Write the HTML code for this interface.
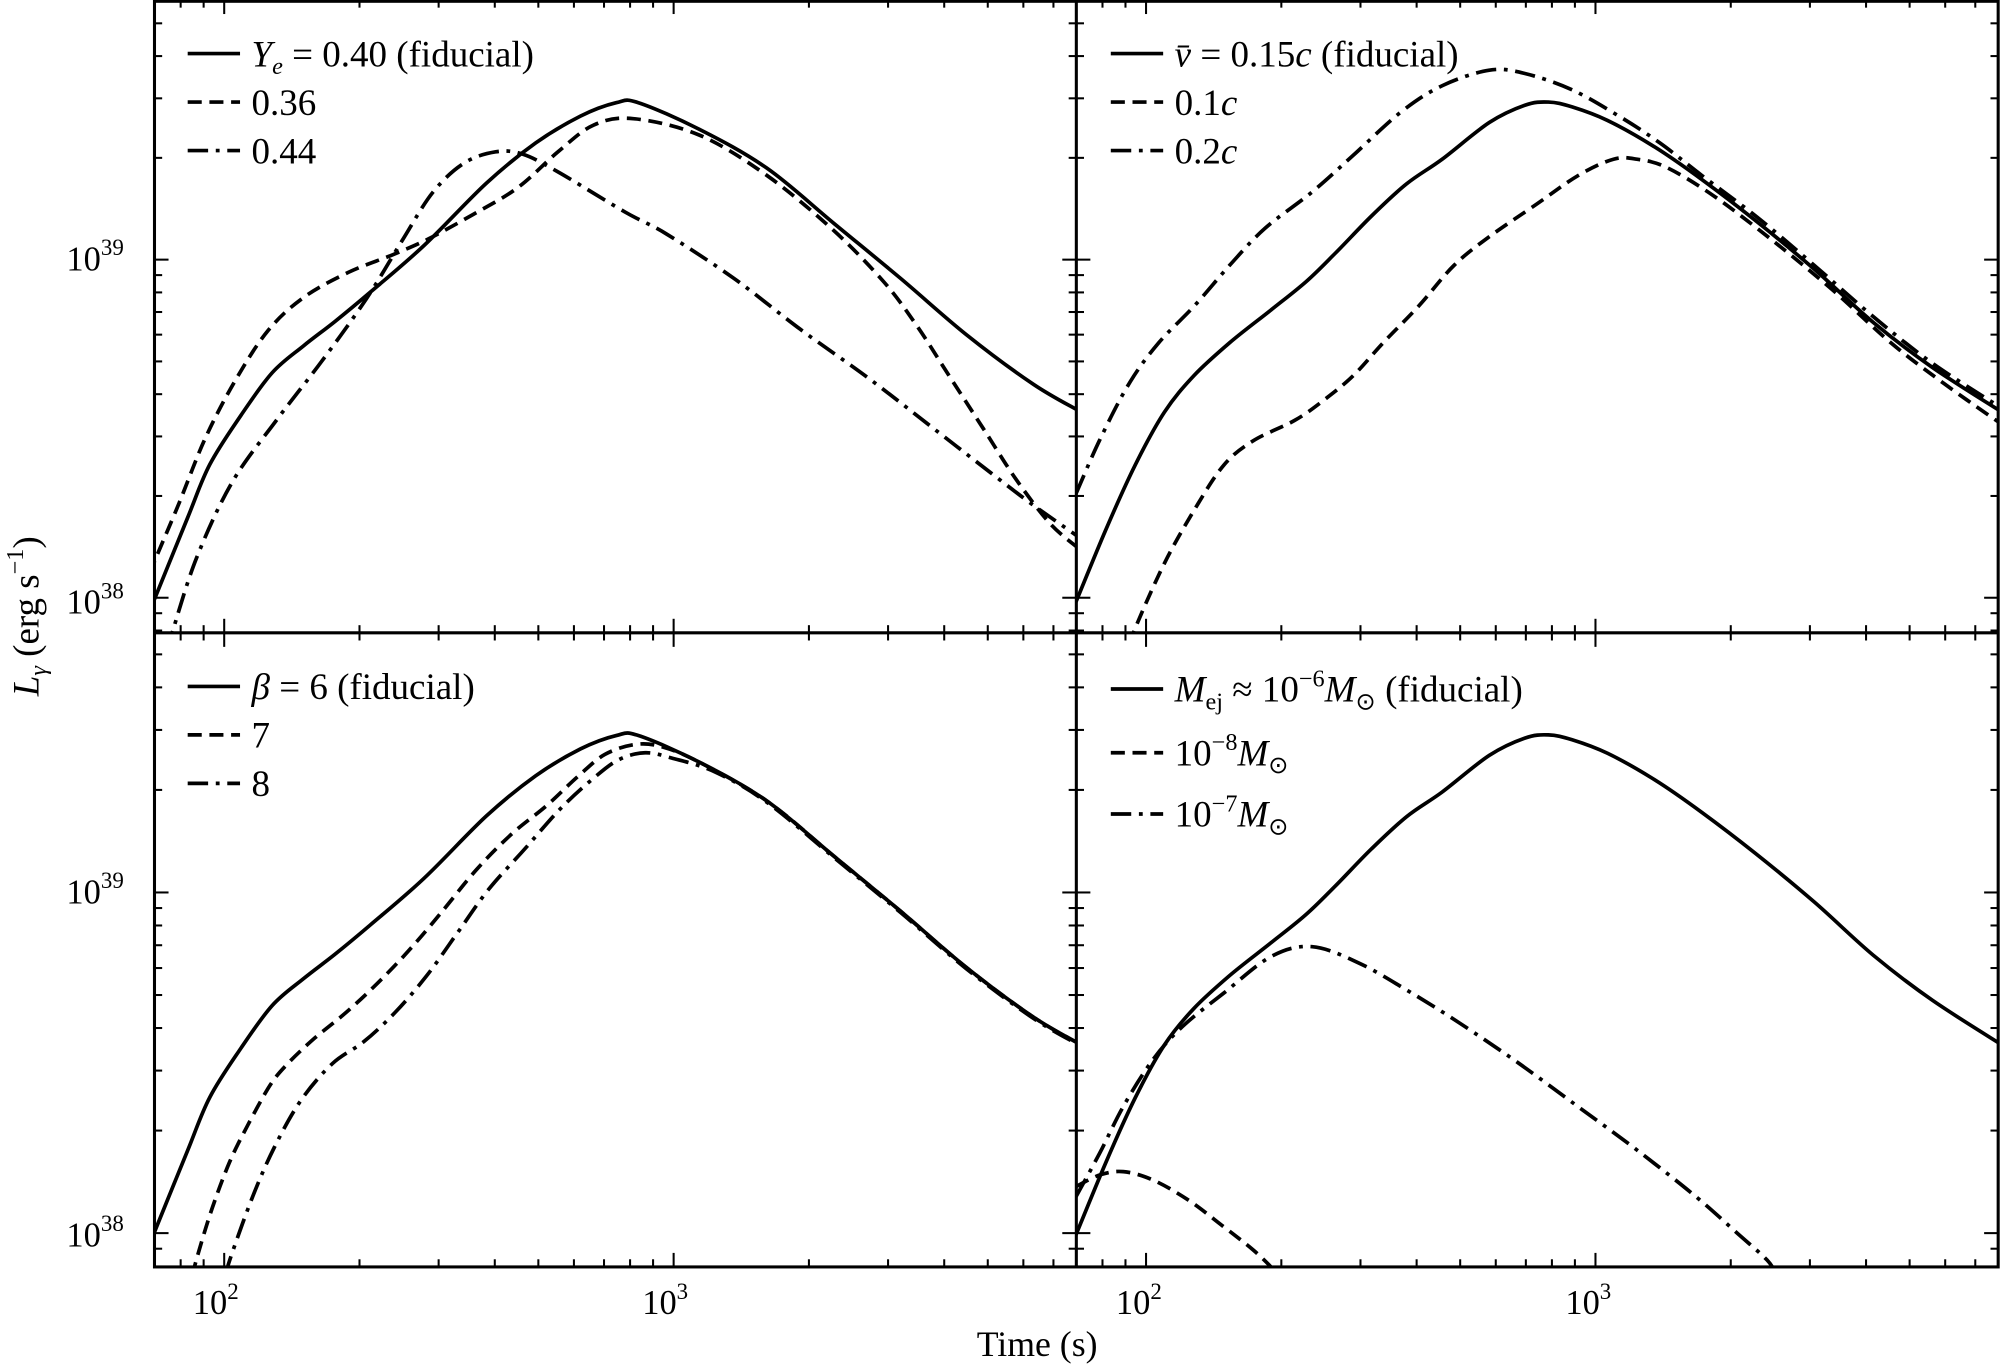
<!DOCTYPE html>
<html><head><meta charset="utf-8"><style>
html,body{margin:0;padding:0;background:#fff;}
svg{display:block;}
text{font-family:"Liberation Serif",serif;fill:#000;}
</style></head><body>
<svg id="s" width="2002" height="1369" viewBox="0 0 1568 1073" preserveAspectRatio="none" xmlns="http://www.w3.org/2000/svg">
<defs>
<clipPath id="c0"><rect x="121" y="0" width="722" height="496"/></clipPath>
<clipPath id="c1"><rect x="843" y="0" width="722" height="496"/></clipPath>
<clipPath id="c2"><rect x="121" y="496" width="722" height="497"/></clipPath>
<clipPath id="c3"><rect x="843" y="496" width="722" height="497"/></clipPath>
</defs>
<g id="curves" fill="none" stroke="#000" stroke-width="2.9" stroke-linejoin="round" stroke-linecap="butt"></g>
<g id="ticks" stroke="#000" stroke-width="1.6"></g>
<g fill="none" stroke="#000" stroke-width="2.4">
<rect x="121" y="1" width="1444" height="992"/>
<line x1="843" y1="0" x2="843" y2="993"/>
<line x1="121" y1="496" x2="1565" y2="496"/>
</g>
<g font-size="27">
<text x="52" y="212">10<tspan font-size="18" dy="-12">39</tspan></text>
<text x="52" y="481">10<tspan font-size="18" dy="-12">38</tspan></text>
<text x="52" y="708">10<tspan font-size="18" dy="-12">39</tspan></text>
<text x="52" y="977">10<tspan font-size="18" dy="-12">38</tspan></text>
<text x="151" y="1030">10<tspan font-size="18" dy="-12">2</tspan></text>
<text x="503" y="1030">10<tspan font-size="18" dy="-12">3</tspan></text>
<text x="874" y="1030">10<tspan font-size="18" dy="-12">2</tspan></text>
<text x="1226" y="1030">10<tspan font-size="18" dy="-12">3</tspan></text>
<text x="765" y="1063" font-size="28">Time (s)</text>
<text transform="translate(30,483) rotate(-90)" text-anchor="middle" font-size="29"><tspan font-style="italic">L</tspan><tspan font-size="19" dy="6" font-style="italic">γ</tspan><tspan dy="-6"> (erg s</tspan><tspan font-size="19" dy="-12">−1</tspan><tspan dy="12">)</tspan></text>
</g>
<g id="legend" font-size="29"></g>
</svg>
<script>
var NS="http://www.w3.org/2000/svg";
function el(p,n,a){var e=document.createElementNS(NS,n);for(var k in a)e.setAttribute(k,a[k]);p.appendChild(e);return e;}
var DASH="11,6", DD="16,6,3,6";
function cr(pts){var d="M"+pts[0][0]+","+pts[0][1];for(var i=0;i<pts.length-1;i++){var p0=pts[i-1]||pts[i],p1=pts[i],p2=pts[i+1],p3=pts[i+2]||p2;
var c1x=p1[0]+(p2[0]-p0[0])/6,c1y=p1[1]+(p2[1]-p0[1])/6,c2x=p2[0]-(p3[0]-p1[0])/6,c2y=p2[1]-(p3[1]-p1[1])/6;
d+=" C"+c1x.toFixed(1)+","+c1y.toFixed(1)+" "+c2x.toFixed(1)+","+c2y.toFixed(1)+" "+p2[0].toFixed(1)+","+p2[1].toFixed(1);}return d;}
var G=document.getElementById("curves");
function curve(pts,clip,dash,dy){dy=dy||0;var p=pts.map(function(q){return [q[0],q[1]+dy];});var a={d:cr(p),"clip-path":"url(#"+clip+")"};if(dash)a["stroke-dasharray"]=dash;el(G,"path",a);}
var TLs=[[120.6,470.6],[146.9,405.9],[164.4,363.9],[188.8,325.4],[213.3,292],[237.8,271],[262.3,252],[290,229],[332,192.5],[381,143.5],[419.6,112],[454.6,91],[482.6,80.5],[500,80.5],[548,101.5],[600.5,131.7],[652.8,174.8],[705,217.9],[757,262.4],[809.4,301.2],[845,322]];
var TLd=[[118,450],[120.6,441],[140,395],[161,343],[185,297],[210,259],[238,233],[273,213.4],[308,199.5],[335.7,187.2],[370.7,168],[405.6,147],[437,119],[465,98],[496,93],[548,106],[600.5,137.4],[652.8,180.5],[692,220.7],[718,255.2],[744,295.5],[770,335.7],[796,376],[822.5,410.4],[845,430]];
var TLdd=[[131,510],[134.6,496.8],[153.9,437.4],[181.8,378],[216.8,329],[251.8,283.4],[286.8,234.4],[314.7,189],[339.2,150.5],[363.7,127.7],[388.2,119],[409,120.7],[437,134.7],[489.6,166.2],[522,183.4],[574.4,217.9],[626.7,258],[679,295.5],[731,335.7],[783,376],[809.4,396],[845,421]];
curve(TLs,"c0");curve(TLd,"c0",DASH);curve(TLdd,"c0",DD);
var TRs=[[842.7,471.8],[865.8,415.9],[889,364.7],[912,323],[935.2,294.3],[963,268.7],[995.4,243],[1023,220.7],[1046,198.3],[1074,169.5],[1101.8,144],[1129.5,124.8],[1166.5,96],[1194.3,82.5],[1212.8,80],[1231.3,83.8],[1259,94.4],[1296,115.2],[1333,140.8],[1374.7,172.7],[1421,211],[1467.2,252.7],[1513.5,288],[1568,323]];
var TRdd=[[842.7,387],[861,345.5],[884.3,300.7],[907.5,268.7],[935.2,240],[963,208],[990.7,179],[1027.7,150.4],[1060,121.6],[1097,88],[1129.5,67.2],[1166.5,55],[1194.3,57.6],[1231.3,70.4],[1268.3,91.2],[1300,112],[1333,137.6],[1376,170],[1421,208],[1467,248],[1513.5,284.7],[1568,320]];
var TRd=[[886,505],[889,492.7],[912,441.5],[935.2,400],[958.4,364.7],[981.5,345.5],[1014,329.5],[1037,313.5],[1060,294.3],[1083.3,268.7],[1111,240],[1138.8,208],[1166.5,185.5],[1203.5,160],[1236,137.6],[1263.7,124.8],[1282,124.8],[1305.3,131.2],[1342.3,153.6],[1388.6,188.7],[1435,227],[1481,268.7],[1522.7,300.7],[1568,332.7]];
curve(TRs,"c1");curve(TRd,"c1",DASH);curve(TRdd,"c1",DD);
curve(TLs,"c2",null,496);
var BLd=[[151,1000],[153.8,987.4],[166,947.5],[180,910.4],[194,882],[211.5,850.6],[225.5,833.5],[246.5,813.6],[271,793.6],[295.5,770.8],[320,745.2],[344.4,716.7],[372.4,682.5],[400.4,654],[428.4,631.2],[452.8,608.4],[473.8,591.3],[498.3,583.4],[519.3,585.6],[548,597.5],[600.5,627.7],[652.8,670.8],[705,713.9],[757,758.4],[809.4,797.2],[845,818]];
var BLdd=[[177,1000],[180,987.4],[197.5,938.9],[215,899],[236,862],[260.5,833.5],[285,816.4],[309.4,793.6],[334,765],[358.4,731],[383,696.7],[411,665.4],[438.8,634],[463.3,611.3],[484.3,595.6],[505.3,590],[526.3,594.2],[560,605],[600.5,628.7],[652.8,671.8],[705,714.9],[757,759.4],[809.4,798.2],[845,819]];
curve(BLd,"c2",DASH);curve(BLdd,"c2",DD);
curve(TRs,"c3",null,496);
var BRdd=[[842.7,938],[861.2,904],[879.7,867.4],[902.8,830.8],[926,804.7],[958.3,778.5],[995.4,749.8],[1027.7,742],[1064.7,755],[1101.8,776],[1143.4,802],[1189.6,833.4],[1236,867.4],[1282,901.3],[1328.4,938],[1360.8,966.7],[1384,987.6],[1392,1000]];
var BRd=[[842.7,930],[861.2,921],[879.7,918.3],[902.8,924.8],[930.6,940.5],[958.3,961.4],[981.5,979.7],[995.4,993],[1000,1000]];
curve(BRd,"c3",DASH);curve(BRdd,"c3",DD);
var T=document.getElementById("ticks");
function tx(x0,lt){return x0+54.6+(lt-2)*352;}
var panels=[[121,0,496],[843,0,496],[121,496,497],[843,496,497]];
panels.forEach(function(P){var x0=P[0],y0=P[1],h=P[2];
 for(var e=1;e<=3;e++)for(var m=1;m<=9;m++){var v=m*Math.pow(10,e);var x=tx(x0,Math.log10(v));if(x<=x0+1||x>=x0+721)continue;var L=(m==1)?11:6;
  el(T,"line",{x1:x,y1:y0+h,x2:x,y2:y0+h-L});el(T,"line",{x1:x,y1:y0,x2:x,y2:y0+L});}
 var y39=(y0==0)?203.5:699.5, dec=(y0==0)?265:267;
 for(var e=37;e<=39;e++)for(var m=1;m<=9;m++){var lv=e+Math.log10(m);var y=y39+(39-lv)*dec;if(y<=y0+1||y>=y0+h-1)continue;var L=(m==1)?11:6;
  el(T,"line",{x1:x0,y1:y,x2:x0+L,y2:y});el(T,"line",{x1:x0+722,y1:y,x2:x0+722-L,y2:y});}
});
var Lg=document.getElementById("legend");
function leg(x,y,dash,html){var a={x1:x,y1:y,x2:x+41,y2:y,stroke:"#000","stroke-width":2.9};if(dash)a["stroke-dasharray"]=dash=="d"?"11,6":"16,6,3,6";el(Lg,"line",a);
 var t=el(Lg,"text",{x:x+50,y:y+10});t.innerHTML=html;}
leg(147,42,null,'<tspan font-style="italic">Y</tspan><tspan font-size="19" dy="6" font-style="italic">e</tspan><tspan dy="-6"> = 0.40 (fiducial)</tspan>');
leg(147,80,"d","0.36");leg(147,118,"dd","0.44");
leg(870,42,null,'<tspan font-style="italic">v̄</tspan> = 0.15<tspan font-style="italic">c</tspan> (fiducial)');
leg(870,80,"d",'0.1<tspan font-style="italic">c</tspan>');leg(870,118,"dd",'0.2<tspan font-style="italic">c</tspan>');
leg(147,538,null,'<tspan font-style="italic">β</tspan> = 6 (fiducial)');
leg(147,576,"d","7");leg(147,614,"dd","8");
leg(870,540,null,'<tspan font-style="italic">M</tspan><tspan font-size="19" dy="6">ej</tspan><tspan dy="-6"> ≈ 10</tspan><tspan font-size="19" dy="-12">−6</tspan><tspan dy="12" font-style="italic">M</tspan><tspan font-size="19" dy="6">⊙</tspan><tspan dy="-6">  (fiducial)</tspan>');
leg(870,590,"d",'10<tspan font-size="19" dy="-12">−8</tspan><tspan dy="12" font-style="italic">M</tspan><tspan font-size="19" dy="6">⊙</tspan>');
leg(870,638,"dd",'10<tspan font-size="19" dy="-12">−7</tspan><tspan dy="12" font-style="italic">M</tspan><tspan font-size="19" dy="6">⊙</tspan>');
</script>
</body></html>
